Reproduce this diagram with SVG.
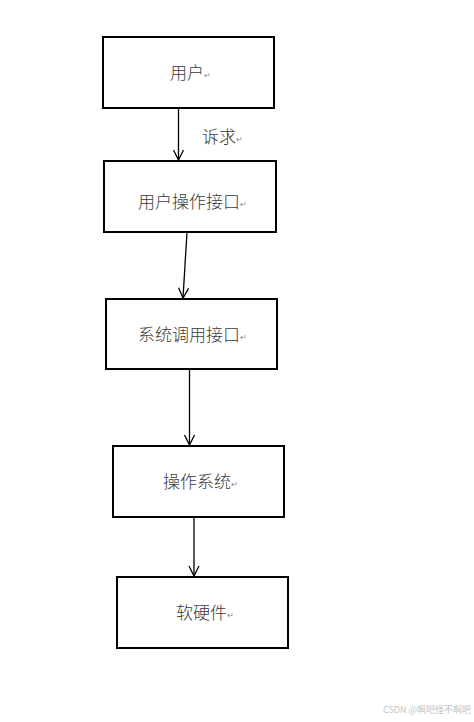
<svg xmlns="http://www.w3.org/2000/svg" width="474" height="722" viewBox="0 0 474 722">
<style>
.box{fill:#fff;stroke:#000;stroke-width:2}
.t{font-family:"Noto Sans CJK SC","Noto Sans",sans-serif;font-size:17px;font-weight:300;fill:#3a3a3a}
.r{font-family:"DejaVu Sans",sans-serif;font-size:8px;fill:#888}
.c{stroke:#000;stroke-width:1.3;fill:none}
.wm{font-family:"Noto Sans CJK SC","Liberation Sans",sans-serif;font-size:9px;fill:#c4c4c4}
</style>
<defs>
<marker id="arr" viewBox="0 0 12 12" refX="11" refY="6" markerWidth="12" markerHeight="12" markerUnits="userSpaceOnUse" orient="auto">
<path d="M1,1 L11,6 L1,11" fill="none" stroke="#000" stroke-width="1.3"/>
</marker>
</defs>
<rect width="474" height="722" fill="#fff"/>
<g id="connectors">
<line class="c" x1="178.5" y1="108" x2="178.5" y2="160" marker-end="url(#arr)"/>
<line class="c" x1="187" y1="232" x2="183" y2="298" marker-end="url(#arr)"/>
<line class="c" x1="189.5" y1="369" x2="189.5" y2="445" marker-end="url(#arr)"/>
<line class="c" x1="194" y1="517" x2="194" y2="576" marker-end="url(#arr)"/>
<text class="t" x="202" y="143">诉求<tspan class="r" dy="-1">↵</tspan></text>
</g>
<g id="node-user">
<rect class="box" x="103" y="37" width="171" height="71"/>
<text class="t" x="170" y="79">用户<tspan class="r" dy="-1">↵</tspan></text>
</g>
<g id="node-ui">
<rect class="box" x="104" y="161" width="172" height="71"/>
<text class="t" x="138" y="208">用户操作接口<tspan class="r" dy="-1">↵</tspan></text>
</g>
<g id="node-syscall">
<rect class="box" x="106" y="299" width="171" height="70"/>
<text class="t" x="138" y="341">系统调用接口<tspan class="r" dy="-1">↵</tspan></text>
</g>
<g id="node-os">
<rect class="box" x="113" y="446" width="171" height="71"/>
<text class="t" x="163" y="488">操作系统<tspan class="r" dy="-1">↵</tspan></text>
</g>
<g id="node-hw">
<rect class="box" x="117" y="577" width="171" height="71"/>
<text class="t" x="176" y="619">软硬件<tspan class="r" dy="-1">↵</tspan></text>
</g>
<text class="wm" x="383" y="713">CSDN @啊吧怪不啊吧</text>
</svg>
